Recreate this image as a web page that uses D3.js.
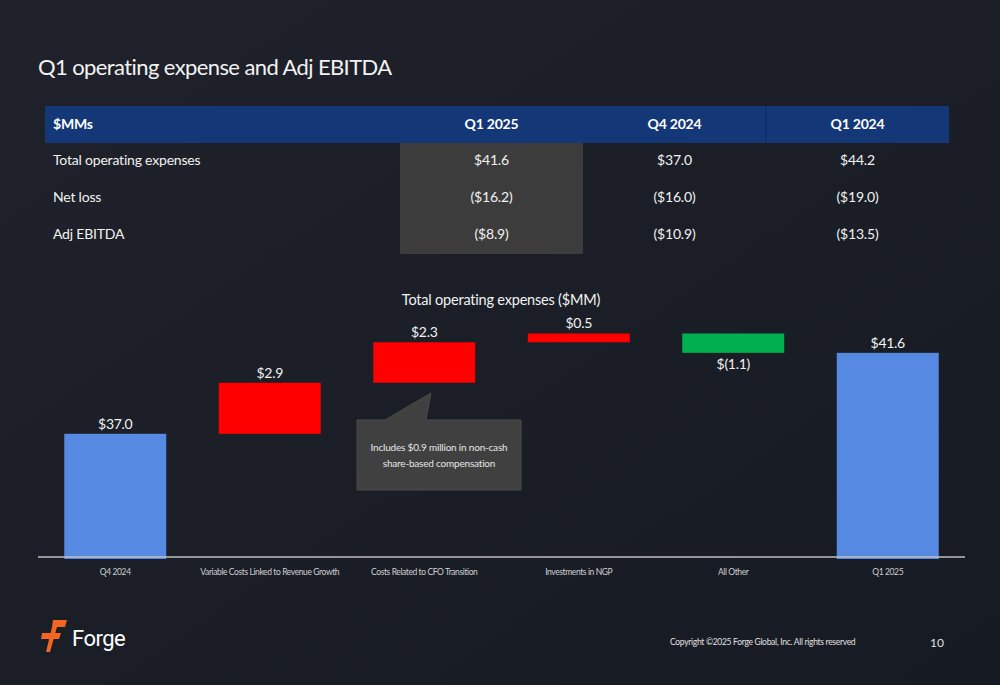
<!DOCTYPE html>
<html>
<head>
<meta charset="utf-8">
<script src="https://cdn.jsdelivr.net/npm/d3@7"></script>
<style>
  html, body { margin: 0; padding: 0; background: #1b1e26; }
  svg { display: block; font-family: Lato, "Open Sans", sans-serif; }
</style>
</head>
<body>
<div id="chart"></div>
<script>
// Table data
const tableColumns = ["Q1 2025", "Q4 2024", "Q1 2024"];
const tableRows = ["Total operating expenses", "Net loss", "Adj EBITDA"];
const tableValues = [
  ["$41.6", "$37.0", "$44.2"],
  ["($16.2)", "($16.0)", "($19.0)"],
  ["($8.9)", "($10.9)", "($13.5)"],
];

// Waterfall data
const categories = [
  "Q4 2024",
  "Variable Costs Linked to Revenue Growth",
  "Costs Related to CFO Transition",
  "Investments in NGP",
  "All Other",
  "Q1 2025",
];
const values = [37.0, 2.9, 2.3, 0.5, -1.1, 41.6];
const valueLabels = ["$37.0", "$2.9", "$2.3", "$0.5", "$(1.1)", "$41.6"];
const isTotal = [true, false, false, false, false, true];

const W = 1000, H = 685;

const svg = d3.select("#chart").append("svg")
  .attr("width", W).attr("height", H);

// Background gradient
const defs = svg.append("defs");
const grad = defs.append("linearGradient").attr("id", "bg")
  .attr("x1", 0).attr("y1", 0).attr("x2", 1).attr("y2", 1);
grad.append("stop").attr("offset", "0%").attr("stop-color", "#1f222a");
grad.append("stop").attr("offset", "100%").attr("stop-color", "#161a23");
svg.append("rect").attr("width", W).attr("height", H).attr("fill", "url(#bg)");

// Title
svg.append("text")
  .attr("x", 38).attr("y", 75)
  .attr("fill", "#f2f2f2")
  .style("font-size", "22px")
  .style("letter-spacing", "-0.6px")
  .text("Q1 operating expense and Adj EBITDA");

// ---- Table ----
const tLeft = 45, tRight = 949, headTop = 106, headH = 37, rowH = 37;
const colX = d3.scaleBand().domain(tableColumns).range([400, tRight]);

svg.append("rect")
  .attr("x", tLeft).attr("y", headTop)
  .attr("width", tRight - tLeft).attr("height", headH)
  .attr("fill", "#133777");

svg.append("line")
  .attr("x1", colX("Q1 2024")).attr("x2", colX("Q1 2024"))
  .attr("y1", headTop).attr("y2", headTop + headH)
  .attr("stroke", "#0e2a5e").attr("stroke-width", 1);

// highlighted current quarter column
svg.append("rect")
  .attr("x", colX("Q1 2025")).attr("y", headTop + headH)
  .attr("width", colX.bandwidth()).attr("height", rowH * 3)
  .attr("fill", "#3c3c3c");

svg.append("text")
  .attr("x", 53).attr("y", headTop + headH / 2 + 4)
  .attr("fill", "#fff").style("font-weight", "bold").style("font-size", "14px")
  .style("letter-spacing", "-0.2px")
  .text("$MMs");

tableColumns.forEach((c) => {
  svg.append("text")
    .attr("x", colX(c) + colX.bandwidth() / 2)
    .attr("y", headTop + headH / 2 + 4)
    .attr("text-anchor", "middle")
    .attr("fill", "#fff").style("font-weight", "bold").style("font-size", "14px")
    .style("letter-spacing", "-0.2px")
    .text(c);
});

tableRows.forEach((r, i) => {
  const cy = headTop + headH + rowH * i + rowH / 2 + 3;
  svg.append("text")
    .attr("x", 53).attr("y", cy)
    .attr("fill", "#f2f2f2").style("font-size", "14px")
    .style("letter-spacing", "-0.2px")
    .text(r);
  tableColumns.forEach((c, j) => {
    svg.append("text")
      .attr("x", colX(c) + colX.bandwidth() / 2)
      .attr("y", cy)
      .attr("text-anchor", "middle")
      .attr("fill", "#f2f2f2").style("font-size", "14px")
      .style("letter-spacing", "-0.2px")
      .text(tableValues[i][j]);
  });
});

// ---- Waterfall ----
const x = d3.scaleBand().domain(categories)
  .range([38, 965]).paddingInner(0.34).paddingOuter(0.17);
const y = d3.scaleLinear().domain([30, 45]).range([557, 293]);

// compute start/end for each step
let running = 0;
const bars = categories.map((c, i) => {
  let start, end;
  if (isTotal[i]) {
    start = y.domain()[0];
    end = values[i];
    running = values[i];
  } else {
    start = running;
    end = running + values[i];
    running = end;
  }
  return { c, start, end, value: values[i], label: valueLabels[i], total: isTotal[i] };
});

const color = (d) => d.total ? "#5589e2" : (d.value >= 0 ? "#ff0000" : "#00b050");

svg.append("text")
  .attr("x", 501).attr("y", 305)
  .attr("text-anchor", "middle")
  .attr("fill", "#f2f2f2").style("font-size", "14.5px")
  .style("letter-spacing", "-0.2px")
  .text("Total operating expenses ($MM)");

svg.selectAll(".bar")
  .data(bars)
  .join("rect")
  .attr("class", "bar")
  .attr("x", (d) => x(d.c))
  .attr("width", x.bandwidth())
  .attr("y", (d) => y(Math.max(d.start, d.end)))
  .attr("height", (d) => Math.abs(y(d.start) - y(d.end)) + (d.total ? 2 : 0))
  .attr("fill", color);

svg.selectAll(".vlabel")
  .data(bars)
  .join("text")
  .attr("class", "vlabel")
  .attr("x", (d) => x(d.c) + x.bandwidth() / 2)
  .attr("y", (d) => d.value >= 0 ? y(Math.max(d.start, d.end)) - 5 : y(Math.min(d.start, d.end)) + 16)
  .attr("text-anchor", "middle")
  .attr("fill", "#f2f2f2").style("font-size", "14px")
  .style("letter-spacing", "-0.3px")
  .text((d) => d.label);

// baseline axis
svg.append("line")
  .attr("x1", 38).attr("x2", 965)
  .attr("y1", y(30)).attr("y2", y(30))
  .attr("stroke", "#bfbfbf").attr("stroke-width", 1.5);

svg.selectAll(".xlabel")
  .data(categories)
  .join("text")
  .attr("class", "xlabel")
  .attr("x", (d) => x(d) + x.bandwidth() / 2)
  .attr("y", 575)
  .attr("text-anchor", "middle")
  .attr("fill", "#d0d0d0")
  .style("font-size", "8.5px")
  .style("letter-spacing", "-0.4px")
  .text((d) => d);

// Callout
const callout = svg.append("g");
callout.append("path")
  .attr("d", "M357,420 L385,420 L431,393 L426,420 L521,420 L521,490 L357,490 Z")
  .attr("fill", "#404040")
  .attr("stroke", "#4a4a4a");
callout.append("text")
  .attr("x", 439).attr("y", 451)
  .attr("text-anchor", "middle")
  .attr("fill", "#e6e6e6").style("font-size", "10px")
  .style("letter-spacing", "-0.2px")
  .text("Includes $0.9 million in non-cash");
callout.append("text")
  .attr("x", 439).attr("y", 467)
  .attr("text-anchor", "middle")
  .attr("fill", "#e6e6e6").style("font-size", "10px")
  .style("letter-spacing", "-0.2px")
  .text("share-based compensation");

// Footer logo
const logo = svg.append("g");
logo.append("path")
  .attr("d", "M53,620 L67,620 L65,627 L52,627 Z M42,633 L61,633 L59,639 L41,639 Z M52,627 L57,627 L50,652 L46,652 Z")
  .attr("fill", "#f26522");
logo.append("text")
  .attr("x", 72).attr("y", 646)
  .attr("fill", "#fff").style("font-size", "22px")
  .style("font-family", "Roboto, sans-serif")
  .style("letter-spacing", "-0.5px")
  .text("Forge");

svg.append("text")
  .attr("x", 670).attr("y", 645)
  .attr("fill", "#e0e0e0").style("font-size", "8.5px")
  .style("letter-spacing", "-0.3px")
  .text("Copyright ©2025 Forge Global, Inc. All rights reserved");

svg.append("text")
  .attr("x", 937).attr("y", 647)
  .attr("text-anchor", "middle")
  .attr("fill", "#e0e0e0").style("font-size", "12px")
  .text("10");
</script>
</body>
</html>
